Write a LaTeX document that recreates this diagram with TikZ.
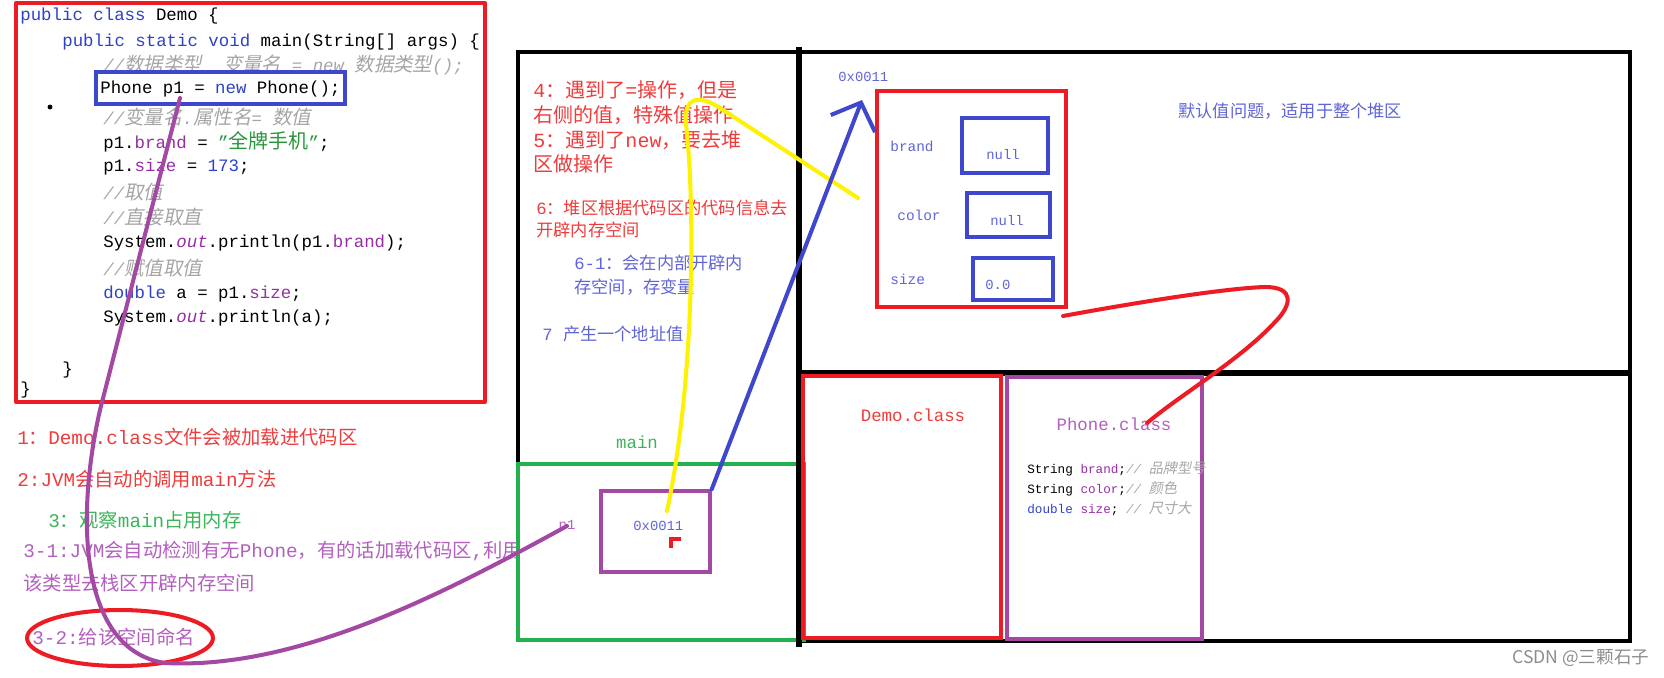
\documentclass[tikz,border=0pt]{standalone}
\usepackage{fontspec}
\setmainfont{Liberation Mono}
\newfontfamily\cjk{Noto Sans CJK SC}
\newfontfamily\cjkcode[Scale=1.15]{Noto Sans CJK SC}
\newfontfamily\cjkit[Scale=1.12,FakeSlant=0.2]{Noto Sans CJK SC}
\usepackage{xcolor}
\usepackage{tikz}
\usetikzlibrary{arrows.meta}

\definecolor{pRed}{RGB}{237,28,36}
\definecolor{pBlue}{RGB}{63,72,204}
\definecolor{pGreen}{RGB}{34,177,76}
\definecolor{pPurple}{RGB}{163,73,164}
\definecolor{pYellow}{RGB}{255,242,0}
\definecolor{kwBlue}{RGB}{45,65,200}
\definecolor{fldPurple}{RGB}{150,45,165}
\definecolor{cmtGray}{RGB}{165,165,165}
\definecolor{strGreen}{RGB}{40,150,60}
\definecolor{txtRed}{RGB}{238,60,60}
\definecolor{txtGreen}{RGB}{60,180,90}
\definecolor{txtPurple}{RGB}{178,95,190}
\definecolor{txtBlue}{RGB}{95,100,215}

\newcommand{\zh}[1]{{\cjk #1}}
\newcommand{\zhc}[1]{{\cjkcode #1}}
\newcommand{\zhi}[1]{{\cjkit #1}}
\newcommand{\kw}[1]{\textcolor{kwBlue}{#1}}
\newcommand{\fld}[1]{\textcolor{fldPurple}{#1}}
\newcommand{\cmt}[1]{\textcolor{cmtGray}{\itshape #1}}

\tikzset{every node/.append style={inner sep=0pt}}
\tikzset{
  code/.style={anchor=west, font=\fontsize{9.9}{12}\selectfont},
  note/.style={anchor=west, font=\fontsize{11}{13}\selectfont},
  small/.style={anchor=west, font=\fontsize{9.8}{12}\selectfont},
  tiny/.style={font=\fontsize{7.9}{10}\selectfont},
  wall/.style={line width=2.6pt},
  thickwall/.style={line width=3.4pt},
  paint/.style={line width=2.3pt, line cap=round, line join=round}
}

\begin{document}
\begin{tikzpicture}[x=0.02cm,y=-0.02cm]
\useasboundingbox (0,0) rectangle (1664,677);

% code
\draw[paint, pRed, line cap=butt] (16,3) rectangle (485,402);
\node[code] (c1) at (20,16) {\kw{public class} Demo \{};
\node[code] (c2) at (62,42) {\kw{public static void} main(String[] args) \{};
\node[code] (c3) at (103,65) {\cmt{//\zhi{数据类型}\ \ \zhi{变量名} = new \zhi{数据类型}();}};
\node[code] (c4) at (100,89) {Phone p1 = \kw{new} Phone();};
\node[code] (c5) at (103,117) {\cmt{//\zhi{变量名}.\zhi{属性名}= \zhi{数值}}};
\node[code] (c6) at (103,142) {p1.\fld{brand} = \textcolor{strGreen}{"\zhc{全牌手机}"};};
\node[code] (c7) at (103,167) {p1.\fld{size} = \kw{173};};
\node[code] (c8) at (103,192) {\cmt{//\zhi{取值}}};
\node[code] (c9) at (103,217) {\cmt{//\zhi{直接取直}}};
\node[code] (c10) at (103,243) {System.\textcolor{fldPurple}{\itshape out}.println(p1.\fld{brand});};
\node[code] (c11) at (103,268) {\cmt{//\zhi{赋值取值}}};
\node[code] (c12) at (103,294) {\kw{double} a = p1.\fld{size};};
\node[code] (c13) at (103,318) {System.\textcolor{fldPurple}{\itshape out}.println(a);};
\node[code] (c14) at (62,370) {\}};
\node[code] (c15) at (20,390) {\}};
\node[draw=pBlue, line width=2.3pt, minimum width=4.98cm, minimum height=0.64cm] (decl) at (220.5,88) {};
\fill (50,107) circle (1.4pt);

% steps on the left
\node[note, text=txtRed] (a1) at (17,437) {1\zh{：}Demo.class\zh{文件会被加载进代码区}};
\node[note, text=txtRed] (a2) at (17,479) {2:JVM\zh{会自动的调用}main\zh{方法}};
\node[note, text=txtGreen] (a3) at (48,520) {3\zh{：观察}main\zh{占用内存}};
\node[note, text=txtPurple] (a31) at (23,551) {3-1:JVM\zh{会自动检测有无}Phone\zh{，有的话加载代码区},\zh{利用}};
\node[note, text=txtPurple] (a31b) at (23,583) {\zh{该类型去栈区开辟内存空间}};
\node[note, text=txtPurple] (a32) at (32,637) {3-2:\zh{给该空间命名}};
\draw[paint, pRed] (120,638) ellipse [x radius=1.86cm, y radius=0.56cm];

% memory areas
\draw[wall] (518,464) -- (518,52) -- (1630,52) -- (1630,641) -- (799,641);
\draw[pGreen, line width=2.3pt] (518,464) rectangle (804,640);
\draw[thickwall] (799,47) -- (799,647);
\draw[thickwall] (799,373) -- (1630,373);
\draw[pRed, line width=2.6pt] (803,376) rectangle (1001,638);
\draw[pPurple, line width=2.3pt] (1007,377) rectangle (1202,639);

% stack
\node[note, font=\fontsize{11.4}{13}\selectfont, text=txtRed] (m4) at (533,90) {4\zh{：遇到了}=\zh{操作，但是}};
\node[note, font=\fontsize{11.4}{13}\selectfont, text=txtRed] (m4b) at (533,115) {\zh{右侧的值，特殊值操作}};
\node[note, font=\fontsize{11.4}{13}\selectfont, text=txtRed] (m5) at (533,140) {5\zh{：遇到了}new\zh{，要去堆}};
\node[note, font=\fontsize{11.4}{13}\selectfont, text=txtRed] (m5b) at (533,164) {\zh{区做操作}};
\node[small, text=txtRed] (m6) at (536,208) {6\zh{：堆区根据代码区的代码信息去}};
\node[small, text=txtRed] (m6b) at (536,230) {\zh{开辟内存空间}};
\node[small, text=txtBlue] (m61) at (574,263) {6-1\zh{：会在内部开辟内}};
\node[small, text=txtBlue] (m61b) at (574,287) {\zh{存空间，存变量}};
\node[small, text=txtBlue] (m7) at (542,334) {7 \zh{产生一个地址值}};
\node[code, anchor=center, text=txtGreen] (mainlbl) at (637,442) {main};
\node[tiny, text=txtPurple] (p1lbl) at (567,526) {p1};
\node[draw=pPurple, line width=1.9pt, minimum width=2.18cm, minimum height=1.62cm] (p1box) at (655.5,531.5) {};
\node[tiny, anchor=west, text=txtBlue] (p1val) at (633,526) {0x0011};
\draw[pRed, line width=1.8pt] (671,548) -- (671,539) -- (681,539);

% heap
\node[tiny, anchor=west, text=txtBlue] (heapaddr) at (838,77) {0x0011};
\node[draw=pRed, line width=2.3pt, minimum width=3.78cm, minimum height=4.32cm] (obj) at (971.5,199) {};
\node[tiny, anchor=west, font=\fontsize{8.2}{10}\selectfont, text=txtBlue] (fbrand) at (890,146) {brand};
\node[tiny, anchor=west, font=\fontsize{8.2}{10}\selectfont, text=txtBlue] (fcolor) at (897,215) {color};
\node[tiny, anchor=west, font=\fontsize{8.2}{10}\selectfont, text=txtBlue] (fsize) at (890,279) {size};
\node[draw=pBlue, line width=2pt, minimum width=1.72cm, minimum height=1.10cm] (vbrand) at (1005,145.5) {};
\node[draw=pBlue, line width=2pt, minimum width=1.66cm, minimum height=0.88cm] (vcolor) at (1008.5,215) {};
\node[draw=pBlue, line width=2pt, minimum width=1.60cm, minimum height=0.84cm] (vsize) at (1013,279) {};
\node[tiny, text=txtBlue] (nbrand) at (1003,155) {null};
\node[tiny, text=txtBlue] (ncolor) at (1007,221) {null};
\node[tiny, anchor=west, text=txtBlue] (nsize) at (985,285) {0.0};
\node[small, text=txtBlue] (dflt) at (1178,111) {\zh{默认值问题，适用于整个堆区}};

% method area
\node[code, anchor=center, text=txtRed] (democls) at (913,415) {Demo.class};
\node[code, anchor=center, text=txtPurple] (phonecls) at (1114,424) {Phone.class};
\node[anchor=west, font=\fontsize{7.2}{9}\selectfont] (pf1) at (1027,469) {String \fld{brand};\cmt{// \zhi{品牌型号}}};
\node[anchor=west, font=\fontsize{7.2}{9}\selectfont] (pf2) at (1027,489) {String \fld{color};\cmt{// \zhi{颜色}}};
\node[anchor=west, font=\fontsize{7.2}{9}\selectfont] (pf3) at (1027,509) {\kw{double} \fld{size}; \cmt{// \zhi{尺寸大}}};

% connectors
\coordinate (p1use) at (180,98);
\coordinate (addrtip) at (862,100);
\coordinate (ystart) at (667,511);
\coordinate (yend) at (858,198);
\coordinate (objout) at (1063,316);
\coordinate (clsin) at (1147,423);
\draw[paint, pPurple] (p1use) -- (100,410) .. controls (75,520) and (80,650) .. (165,663) .. controls (300,670) and (450,590) .. (p1lbl.center);
\draw[paint, pYellow] (ystart) .. controls (695,380) and (695,200) .. (686,125) .. controls (683,95) and (700,95) .. (720,108) -- (yend);
\draw[paint, pBlue, -{Straight Barb[length=4.5mm, width=9.5mm]}] (p1box.north east) -- (addrtip);
\draw[paint, pRed] (objout) .. controls (1150,300) and (1230,288) .. (1265,287) .. controls (1295,287) and (1292,305) .. (1275,322) .. controls (1240,360) and (1180,395) .. (clsin);

\node[anchor=west, font=\cjk\fontsize{10}{12}\selectfont, text=black!45] (wm) at (1512,658) {CSDN @三颗石子};
\end{tikzpicture}
\end{document}
